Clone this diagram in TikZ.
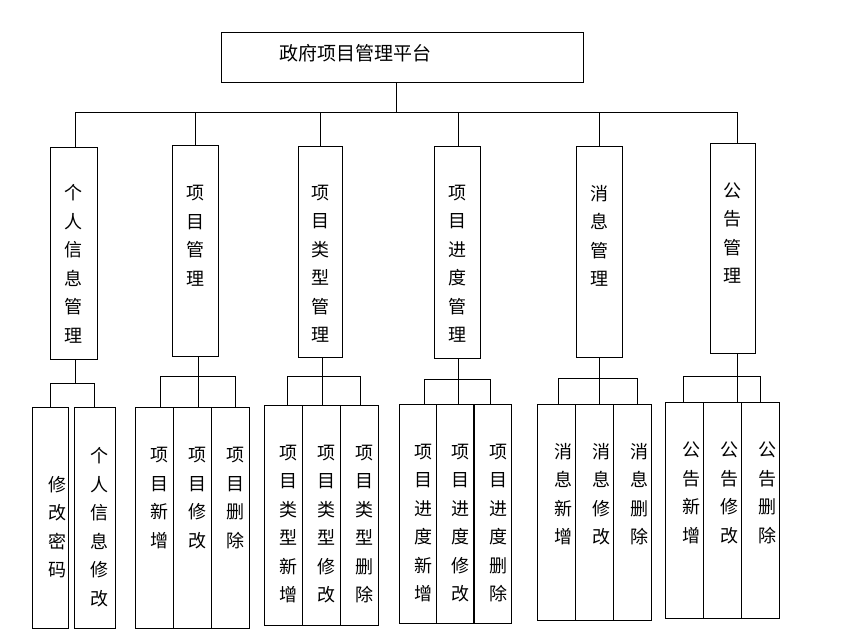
\documentclass[tikz,border=0pt]{standalone}
\usepackage{fontspec}
\setmainfont{Noto Sans CJK SC}
\begin{document}
\begin{tikzpicture}[x=1pt,y=-1pt,line width=0.8pt,
  bx/.style={draw,fill=white,inner sep=0},
  vt/.style={align=center,font=\fontsize{18}{28.5}\selectfont,inner sep=0}]
\useasboundingbox (0,0) rectangle (864,637);
% lines
\draw (396,82)--(396,112);
\draw (75,112)--(737,112);
\foreach \x in {75,195,320,458,599,737} \draw (\x,112)--(\x,150);
\draw (75,359)--(75,383) (50,383)--(94,383) (50,383)--(50,410) (94,383)--(94,410);
\draw (198,356)--(198,410) (160,376)--(235,376) (160,376)--(160,410) (235,376)--(235,410);
\draw (322,357)--(322,408) (287,376)--(360,376) (287,376)--(287,408) (360,376)--(360,408);
\draw (458,358)--(458,408) (424,379)--(490,379) (424,379)--(424,408) (490,379)--(490,408);
\draw (599,357)--(599,408) (558,378)--(637,378) (558,378)--(558,408) (637,378)--(637,408);
\draw (737,353)--(737,405) (683,376)--(760,376) (683,376)--(683,405) (760,376)--(760,405);
% top
\draw[bx] (221,32) rectangle (583,82);
\node[font=\fontsize{19}{22}\selectfont] (top) at (355,53) {政府项目管理平台};
% level 2
\draw[bx] (50,147) rectangle (97,359);  \node[vt] (a) at (73.5,264) {个\\人\\信\\息\\管\\理};
\draw[bx] (172,145) rectangle (218,356); \node[vt] (b) at (195,236) {项\\目\\管\\理};
\draw[bx] (298,146) rectangle (342,357); \node[vt] (c) at (320,264) {项\\目\\类\\型\\管\\理};
\draw[bx] (434,146) rectangle (480,358); \node[vt] (d) at (457,264) {项\\目\\进\\度\\管\\理};
\draw[bx] (576,146) rectangle (622,357); \node[vt] (e) at (599,236) {消\\息\\管\\理};
\draw[bx] (710,143) rectangle (755,353); \node[vt] (f) at (732,233) {公\\告\\管\\理};
% level 3
\draw[bx] (32,407) rectangle (68,628); \node[vt] (a1) at (57,527) {修\\改\\密\\码};
\draw[bx] (74,407) rectangle (115,628); \node[vt] (a2) at (99,527) {个\\人\\信\\息\\修\\改};
\foreach \x/\t [count=\i] in {135/{项\\目\\新\\增},173/{项\\目\\修\\改},211/{项\\目\\删\\除}}
  {\draw[bx] (\x,407) rectangle (\x+38,628); \node[vt] (b\i) at (\x+24,498) {\t};}
\foreach \x/\t [count=\i] in {264/{项\\目\\类\\型\\新\\增},302/{项\\目\\类\\型\\修\\改},340/{项\\目\\类\\型\\删\\除}}
  {\draw[bx] (\x,405) rectangle (\x+38,625); \node[vt] (c\i) at (\x+24,524) {\t};}
\foreach \x/\t [count=\i] in {399/{项\\目\\进\\度\\新\\增},436/{项\\目\\进\\度\\修\\改},474/{项\\目\\进\\度\\删\\除}}
  {\draw[bx] (\x,404) rectangle (\x+37,623); \node[vt] (d\i) at (\x+24,523) {\t};}
\foreach \x/\t [count=\i] in {537/{消\\息\\新\\增},575/{消\\息\\修\\改},613/{消\\息\\删\\除}}
  {\draw[bx] (\x,404) rectangle (\x+38,620); \node[vt] (e\i) at (\x+26,494) {\t};}
\foreach \x/\t [count=\i] in {665/{公\\告\\新\\增},703/{公\\告\\修\\改},741/{公\\告\\删\\除}}
  {\draw[bx] (\x,402) rectangle (\x+38,618); \node[vt] (f\i) at (\x+26,493) {\t};}
\end{tikzpicture}
\end{document}
